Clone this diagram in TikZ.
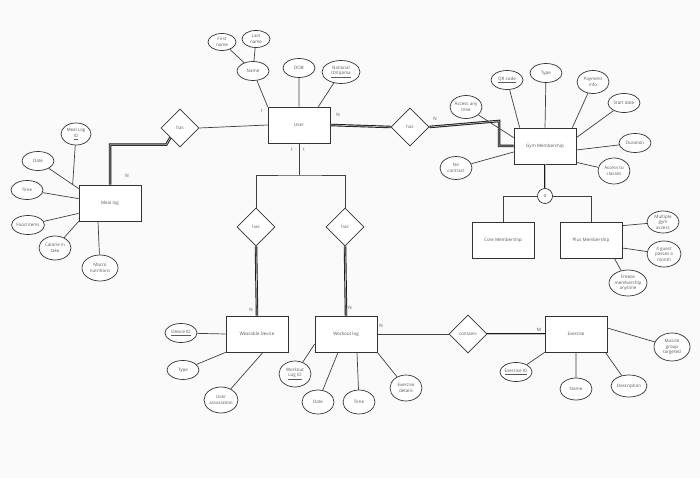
\documentclass[tikz,border=0pt]{standalone}
\usepackage{fontspec}
\setmainfont{Open Sans}
\usetikzlibrary{shapes.geometric}
\begin{document}
\begin{tikzpicture}[x=1pt,y=-1pt,
  every node/.style={font=\fontsize{4.5}{5.5}\selectfont,text=black!65},
  ent/.style={draw=black!80,fill=white,minimum width=62pt,minimum height=36pt,line width=0.7pt},
  rel/.style={draw=black!80,fill=white,diamond,minimum width=38pt,minimum height=38pt,inner sep=0pt,line width=0.7pt},
  att/.style={draw=black!80,fill=white,ellipse,minimum width=32pt,minimum height=19pt,inner sep=0pt,align=center,line width=0.7pt},
  ln/.style={draw=black!75,line width=0.7pt},
  dbl/.style={draw=black!90,double=black!25,double distance=0.7pt,line width=0.9pt},
  card/.style={font=\fontsize{4.5}{5.5}\selectfont,text=black!70}]
\fill[black!2] (0,0) rectangle (700,478);
\useasboundingbox (0,0) rectangle (700,478);
% entities
\node[ent] (user) at (299,125) {User};
\node[ent] (meal) at (110,203) {Meal log};
\node[ent] (gym) at (545,146) {Gym Membership};
\node[ent] (core) at (503,240) {Core Membership};
\node[ent] (plus) at (591,240) {Plus Membership};
\node[ent] (wear) at (257,334) {Wearable Device};
\node[ent] (work) at (346,334) {Workout log};
\node[ent] (ex) at (576,334) {Exercise};
% relations
\node[rel] (hasL) at (180,128) {has};
\node[rel] (hasR) at (410,127) {has};
\node[rel] (hasW) at (256,227) {has};
\node[rel] (hasK) at (345,227) {has};
\node[rel] (cont) at (468,334) {contains};
\node[draw=black!80,fill=white,circle,minimum size=15pt,inner sep=0pt,line width=0.7pt] (d) at (545,196) {d};
% attributes
\node[att,minimum width=28pt,minimum height=17pt] (fn) at (222,42) {First\\name};
\node[att,minimum width=28pt,minimum height=17pt] (lnm) at (256,39) {Last\\name};
\node[att] (name) at (253,71) {Name};
\node[att] (dob) at (299,68) {DOB};
\node[att,minimum width=38pt,minimum height=23pt] (nid) at (341,72) {National\\\underline{ID/Iqama}};
\node[att,minimum width=30pt,minimum height=22pt] (mid) at (76,134) {Meal Log\\\underline{ID}};
\node[att] (mdate) at (38,161) {Date};
\node[att] (mtime) at (27,190) {Time};
\node[att] (food) at (28,225) {Food items};
\node[att,minimum height=24pt] (cal) at (55,248) {Calorie in\\take};
\node[att,minimum width=36pt,minimum height=26pt] (mac) at (100,268) {Macro\\nutritions};
\node[att] (qr) at (507,80) {\underline{QR code}};
\node[att] (gtype) at (546,73) {Type};
\node[att,minimum height=23pt] (pay) at (593,82) {Payment\\info};
\node[att] (start) at (624,103) {Start date};
\node[att] (dur) at (635,143) {Duration};
\node[att,minimum height=26pt] (acl) at (614,171) {Access to\\classes};
\node[att,minimum height=23pt] (any) at (466,107) {Access any\\time};
\node[att,minimum height=23pt] (noc) at (456,168) {No\\contract};
\node[att,minimum height=22pt] (mult) at (663,222) {Multiple\\gym\\access};
\node[att,minimum width=34pt,minimum height=26pt] (guest) at (664,254) {4 guest\\passes a\\month};
\node[att,minimum width=34pt,minimum height=26pt] (frz) at (628,283) {Freeze\\membership\\anytime};
\node[att] (did) at (181,333) {\underline{Device ID}};
\node[att] (wtype) at (183,370) {Type};
\node[att,minimum width=34pt,minimum height=26pt] (uas) at (221,400) {User\\association};
\node[att,minimum height=26pt] (wid) at (295,374) {Workout\\\underline{Log ID}};
\node[att,minimum height=24pt] (wdate) at (318,402) {Date};
\node[att,minimum height=24pt] (wtime) at (359,402) {Time};
\node[att,minimum height=26pt] (exd) at (406,388) {Exercise\\details};
\node[att] (exid) at (516,372) {\underline{Exercise ID}};
\node[att,minimum height=22pt] (exn) at (576,389) {Name};
\node[att,minimum width=36pt,minimum height=22pt] (desc) at (629,386) {Description};
\node[att,minimum width=36pt,minimum height=28pt] (mus) at (672,347) {Muscle\\group\\targeted};
% attribute links
\path[ln] (fn) -- (name) (lnm) -- (name) (name) -- (user.north west) (dob) -- (user.north) (nid) -- ([xshift=-12pt]user.north east);
\path[ln] (mid) -- ([xshift=-6pt]meal.north west) (mdate) -- ([yshift=-4pt]meal.north west) (mtime) -- ([yshift=-14pt]meal.north west) (food) -- ([yshift=8pt]meal.south west) (cal) -- (meal.south west) (mac) -- ([xshift=-12pt]meal.south);
\path[ln] (qr) -- ([xshift=6pt]gym.north west) (gtype) -- (gym.north) (pay) -- ([xshift=-4pt]gym.north east) (start) -- ([yshift=-10pt]gym.north east) (dur) -- ([yshift=-4pt]gym.east) (acl) -- ([yshift=2pt]gym.south east) (any) -- ([yshift=-10pt]gym.north west) (noc) -- ([yshift=-6pt]gym.west);
\path[ln] (mult) -- ([yshift=-4pt]plus.north east) (guest) -- ([yshift=-8pt]plus.east) (frz) -- ([xshift=-8pt]plus.south east);
\path[ln] (did) -- (wear.west) (wtype) -- (wear.south west) (uas) -- ([xshift=6pt]wear.south);
\path[ln] (wid) -- ([yshift=-10pt]work.west) (wdate) -- ([xshift=-8pt]work.south) (wtime) -- ([xshift=11pt]work.south) (exd) -- (work.south east);
\path[ln] (exid) -- (ex.south west) (exn) -- (ex.south) (desc) -- ([xshift=-2pt]ex.south east) (mus) -- ([yshift=6pt]ex.east);
% relationship links
\path[ln] (user.west) -- (hasL.east);
\path[dbl] (hasL.south west) -- ++(-4,7) -| (meal.north);
\path[dbl] (user.east) -- (hasR.west);
\path[dbl] (hasR.east) -- (499,121) |- (gym.west);
\path[ln] (user.south) -- (299,175) coordinate (j);
\path[ln] (hasW.north) |- (j) -| (hasK.north);
\path[dbl] (hasW.south) -- (wear.north);
\path[dbl] (hasK.south) -- (work.north);
\path[dbl] (gym.south) -- (d.north);
\path[ln] (core.north) |- (d.west);
\path[ln] (plus.north) |- (d.east);
\path[ln] (work.east) -- (cont.west);
\path[dbl] (cont.east) -- (ex.west);
% cardinalities
\node[card] at (262,111) {1};
\node[card] at (338,115) {N};
\node[card] at (435,119) {N};
\node[card] at (127,176) {N};
\node[card] at (292,150) {1};
\node[card] at (304,150) {1};
\node[card] at (251,310) {N};
\node[card] at (350,308) {N};
\node[card] at (381,326) {N};
\node[card] at (539,330) {M};
\end{tikzpicture}
\end{document}
